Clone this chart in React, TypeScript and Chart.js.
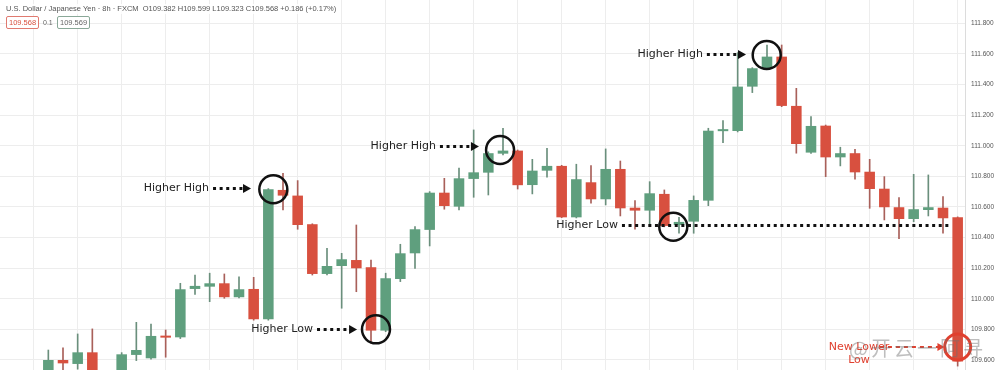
import { useEffect, useRef } from 'react';
import { Chart, registerables } from 'chart.js';

Chart.register(...registerables);

// OHLC of each 8h candle (USD/JPY)
const opens = [
  109.45, 109.48, 109.46, 109.50, 109.60, 109.574, 109.65, 109.47, 109.50, 109.633,
  109.611, 109.759, 109.748, 110.064, 110.079, 110.101, 110.010, 110.064, 109.866, 110.711,
  110.674, 110.487, 110.162, 110.214, 110.253, 110.206, 109.792, 110.129, 110.297, 110.450,
  110.693, 110.602, 110.783, 110.824, 110.948, 110.968, 110.743, 110.837, 110.868, 110.532,
  110.761, 110.650, 110.848, 110.595, 110.576, 110.685, 110.482, 110.504, 110.641, 111.095,
  111.096, 111.386, 111.506, 111.582, 111.260, 110.955, 111.131, 110.924, 110.951, 110.830,
  110.719, 110.598, 110.521, 110.580, 110.595, 110.532,
];
const highs = [
  109.50, 109.52, 109.51, 109.665, 109.679, 109.770, 109.803, 109.52, 109.648, 109.846,
  109.835, 109.796, 110.101, 110.155, 110.167, 110.162, 110.144, 110.140, 110.720, 110.820,
  110.772, 110.490, 110.330, 110.297, 110.482, 110.253, 110.167, 110.356, 110.471, 110.700,
  110.787, 110.853, 111.103, 110.960, 111.114, 110.972, 110.911, 110.983, 110.872, 110.879,
  110.870, 110.979, 110.900, 110.641, 110.765, 110.711, 110.532, 110.672, 111.114, 111.164,
  111.608, 111.510, 111.658, 111.658, 111.375, 111.190, 111.135, 110.990, 110.977, 110.911,
  110.798, 110.661, 110.813, 110.809, 110.667, 110.535,
];
const lows = [
  109.40, 109.42, 109.40, 109.48, 109.52, 109.54, 109.45, 109.43, 109.48, 109.596,
  109.605, 109.618, 109.740, 110.029, 109.981, 110.003, 110.005, 109.860, 109.860, 110.580,
  110.454, 110.155, 110.155, 109.938, 110.046, 109.709, 109.785, 110.112, 110.199, 110.345,
  110.585, 110.580, 110.663, 110.678, 110.940, 110.717, 110.685, 110.794, 110.530, 110.528,
  110.624, 110.613, 110.541, 110.454, 110.471, 110.470, 110.428, 110.428, 110.608, 111.020,
  111.090, 111.347, 111.500, 111.255, 110.951, 110.950, 110.798, 110.868, 110.781, 110.591,
  110.515, 110.393, 110.503, 110.541, 110.428, 109.560,
];
const closes = [
  109.48, 109.46, 109.50, 109.60, 109.578, 109.650, 109.50, 109.50, 109.637, 109.665,
  109.757, 109.746, 110.062, 110.084, 110.101, 110.010, 110.062, 109.866, 110.715, 110.674,
  110.482, 110.162, 110.214, 110.258, 110.199, 109.792, 110.134, 110.297, 110.454, 110.693,
  110.606, 110.787, 110.826, 110.951, 110.968, 110.742, 110.837, 110.868, 110.532, 110.781,
  110.650, 110.848, 110.591, 110.576, 110.689, 110.476, 110.502, 110.645, 111.098, 111.100,
  111.386, 111.506, 111.582, 111.260, 111.011, 111.129, 110.924, 110.951, 110.826, 110.717,
  110.598, 110.521, 110.585, 110.598, 110.526, 109.590,
];
const categories = opens.map((_, i) => `Bar ${i + 1}`);

// price axis
const yTicks = [109.6, 109.8, 110.0, 110.2, 110.4, 110.6, 110.8, 111.0, 111.2, 111.4, 111.6, 111.8];
const yMin = 109.5345;
const yMax = 111.952;

// annotations (candle index, price)
const circleMarks = [
  { index: 18.34, price: 110.715 },
  { index: 25.34, price: 109.8 },
  { index: 33.8, price: 110.972 },
  { index: 45.61, price: 110.471 },
  { index: 51.98, price: 111.593 },
];
const arrowNotes = [
  { text: 'Higher High', from: 14.23, to: 16.82, price: 110.721, head: true },
  { text: 'Higher Low', from: 21.32, to: 24.05, price: 109.803, head: true },
  { text: 'Higher High', from: 29.7, to: 32.36, price: 110.995, head: true },
  { text: 'Higher Low', from: 42.11, to: 64.48, price: 110.482, head: false },
  { text: 'Higher High', from: 47.9, to: 50.57, price: 111.599, head: true },
];
const newLowLines = ['New Lower', 'Low'];
const newLowNote = { textIndex: 58.27, price: 109.685, from: 59.7, to: 64.1, circleIndex: 65 };

const GREEN = '#5f9f7e';
const RED = '#d8503f';
const GREEN_WICK = '#6a8f7c';
const RED_WICK = '#a9605a';

const isUp = (i: number) => closes[i] >= opens[i];

const notesPlugin = {
  id: 'notes',
  afterDatasetsDraw(chart: any) {
    const { ctx, scales } = chart;
    const px = (i: number) => scales.x.getPixelForValue(i);
    const py = (p: number) => scales.y.getPixelForValue(p);
    ctx.save();
    // black circles
    ctx.strokeStyle = '#111';
    ctx.lineWidth = 2.5;
    circleMarks.forEach((c) => {
      ctx.beginPath();
      ctx.arc(px(c.index), py(c.price), 14, 0, Math.PI * 2);
      ctx.stroke();
    });
    // dotted arrows and labels
    arrowNotes.forEach((n) => {
      const x0 = px(n.from);
      const x1 = px(n.to);
      const yy = Math.round(py(n.price)) + 0.5;
      ctx.strokeStyle = '#111';
      ctx.fillStyle = '#111';
      ctx.lineWidth = 3;
      ctx.setLineDash([3, 3.6]);
      ctx.beginPath();
      ctx.moveTo(x0, yy);
      ctx.lineTo(n.head ? x1 - 7 : x1, yy);
      ctx.stroke();
      ctx.setLineDash([]);
      if (n.head) {
        ctx.beginPath();
        ctx.moveTo(x1, yy);
        ctx.lineTo(x1 - 8, yy - 4.5);
        ctx.lineTo(x1 - 8, yy + 4.5);
        ctx.closePath();
        ctx.fill();
      }
      ctx.font = '11px "DejaVu Sans"';
      ctx.textAlign = 'right';
      ctx.textBaseline = 'middle';
      ctx.fillStyle = '#222';
      ctx.fillText(n.text, x0 - 4, yy);
    });
    // new lower low (red)
    const ny = py(newLowNote.price);
    ctx.fillStyle = '#e0402f';
    ctx.font = '11px "DejaVu Sans"';
    ctx.textAlign = 'center';
    ctx.textBaseline = 'middle';
    newLowLines.forEach((t, k) => ctx.fillText(t, px(newLowNote.textIndex), ny + k * 13));
    ctx.strokeStyle = '#e0402f';
    ctx.lineWidth = 2;
    ctx.setLineDash([4, 4]);
    ctx.beginPath();
    ctx.moveTo(px(newLowNote.from), ny);
    ctx.lineTo(px(newLowNote.to) - 6, ny);
    ctx.stroke();
    ctx.setLineDash([]);
    const tx = px(newLowNote.to);
    ctx.beginPath();
    ctx.moveTo(tx, ny);
    ctx.lineTo(tx - 7, ny - 4);
    ctx.lineTo(tx - 7, ny + 4);
    ctx.closePath();
    ctx.fill();
    ctx.lineWidth = 3;
    ctx.beginPath();
    ctx.arc(px(newLowNote.circleIndex), ny, 13, 0, Math.PI * 2);
    ctx.stroke();
    // watermark
    ctx.fillStyle = 'rgba(110,110,110,0.45)';
    ctx.font = '20px "Noto Sans CJK SC"';
    ctx.textAlign = 'left';
    (ctx as any).letterSpacing = '3px';
    ctx.fillText('@开云一阿寻', 852, ny + 1);
    (ctx as any).letterSpacing = '0px';
    ctx.restore();
  },
};

export default function App() {
  const ref = useRef<HTMLCanvasElement>(null);

  useEffect(() => {
    document.body.style.overflow = 'hidden';
    const chart = new Chart(ref.current as HTMLCanvasElement, {
      type: 'bar',
      data: {
        labels: categories,
        datasets: [
          {
            label: 'body',
            data: opens.map((o, i) => [o, closes[i]]) as any,
            backgroundColor: opens.map((_, i) => (isUp(i) ? GREEN : RED)),
            barPercentage: 0.72,
            categoryPercentage: 1,
            minBarLength: 2,
            grouped: false,
            order: 0,
          },
          {
            label: 'wick',
            data: lows.map((l, i) => [l, highs[i]]) as any,
            backgroundColor: opens.map((_, i) => (isUp(i) ? GREEN_WICK : RED_WICK)),
            barThickness: 1,
            grouped: false,
            order: 1,
          },
        ],
      },
      options: {
        responsive: true,
        maintainAspectRatio: false,
        animation: false,
        layout: { padding: 0 },
        plugins: { legend: { display: false }, tooltip: { enabled: false } },
        scales: {
          x: {
            type: 'category',
            offset: true,
            ticks: { display: false },
            grid: {
              offset: false,
              drawTicks: false,
              color: (c: any) => (c.index % 3 === 2 ? '#ededed' : 'rgba(0,0,0,0)'),
            },
            border: { display: false },
            afterFit: (axis: any) => {
              axis.height = 0;
              axis.paddingLeft = 0;
              axis.paddingRight = 0;
            },
          },
          y: {
            position: 'right',
            min: yMin,
            max: yMax,
            afterBuildTicks: (axis: any) => {
              axis.ticks = yTicks.map((v) => ({ value: v }));
            },
            afterFit: (axis: any) => {
              axis.width = 35;
              axis.paddingTop = 0;
              axis.paddingBottom = 0;
            },
            ticks: {
              autoSkip: false,
              padding: 6,
              color: '#555',
              font: { family: '"Liberation Sans"', size: 6.5 },
              callback: (v: any) => Number(v).toFixed(3),
            },
            grid: { color: '#ededed', drawTicks: false },
            border: { color: '#dcdcdc' },
          },
        },
      },
      plugins: [notesPlugin],
    });
    return () => chart.destroy();
  }, []);

  const box = (color: string, text: string, left: number) => (
    <div
      style={{
        position: 'absolute',
        left,
        top: 16,
        height: 11,
        padding: '0 2px',
        border: `1px solid ${color}`,
        borderRadius: 2,
        color: text === '109.568' ? '#d8503f' : '#666',
        fontSize: 7.5,
        lineHeight: '11px',
        fontFamily: '"Liberation Sans"',
        background: '#fff',
      }}
    >
      {text}
    </div>
  );

  return (
    <div style={{ position: 'fixed', left: 0, top: 0, width: 1000, height: 370, overflow: 'hidden', background: '#fff' }}>
      <div style={{ position: 'absolute', left: -3, top: 0, width: 1003, height: 370 }}>
        <canvas ref={ref} />
      </div>
      <div
        style={{
          position: 'absolute',
          left: 6,
          top: 4,
          fontSize: 7.5,
          lineHeight: '10px',
          fontFamily: '"Liberation Sans"',
          color: '#555',
          whiteSpace: 'nowrap',
          background: 'rgba(255,255,255,0.8)',
        }}
      >
        U.S. Dollar / Japanese Yen · 8h · FXCM&nbsp;&nbsp;O109.382 H109.599 L109.323 C109.568 +0.186 (+0.17%)
      </div>
      {box('#e07a70', '109.568', 6)}
      <div style={{ position: 'absolute', left: 43, top: 17, fontSize: 7, lineHeight: '11px', fontFamily: '"Liberation Sans"', color: '#666' }}>0.1</div>
      {box('#8aa898', '109.569', 57)}
    </div>
  );
}
